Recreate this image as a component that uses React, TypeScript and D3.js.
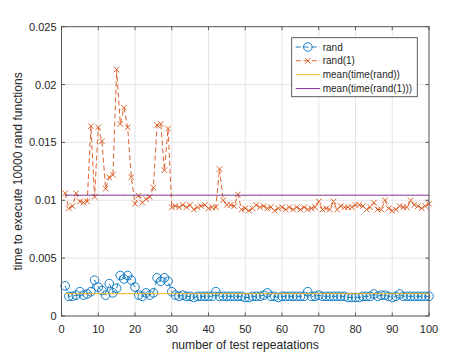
import React from "react";
import * as d3 from "d3";

const randTimes: number[] = [
  0.0026, 0.0017, 0.0017, 0.0018, 0.0021, 0.0018, 0.0019, 0.0021, 0.0031, 0.0025,
  0.0022, 0.0018, 0.0028, 0.0020, 0.0024, 0.0035, 0.0032, 0.0035, 0.0031, 0.0025,
  0.0018, 0.0017, 0.0020, 0.0018, 0.0020, 0.0033, 0.0030, 0.0033, 0.0030, 0.0021,
  0.0018, 0.0017, 0.0018, 0.0017, 0.0017, 0.0016, 0.0017, 0.0017, 0.0017, 0.0017,
  0.0017, 0.0021, 0.0017, 0.0017, 0.0017, 0.0017, 0.0017, 0.0017, 0.0017, 0.0016,
  0.0016, 0.0017, 0.0017, 0.0017, 0.0018, 0.0020, 0.0017, 0.0017, 0.0016, 0.0017,
  0.0017, 0.0017, 0.0017, 0.0017, 0.0017, 0.0017, 0.0021, 0.0017, 0.0017, 0.0018,
  0.0017, 0.0017, 0.0017, 0.0017, 0.0017, 0.0017, 0.0017, 0.0016, 0.0016, 0.0016,
  0.0016, 0.0017, 0.0017, 0.0017, 0.0019, 0.0017, 0.0018, 0.0018, 0.0017, 0.0016,
  0.0017, 0.0019, 0.0017, 0.0017, 0.0017, 0.0017, 0.0017, 0.0017, 0.0017, 0.0017,
];

const rand1Times: number[] = [
  0.0106, 0.0093, 0.0095, 0.0106, 0.0099, 0.0098, 0.0099, 0.0164, 0.0103, 0.0163,
  0.0151, 0.0110, 0.0120, 0.0122, 0.0213, 0.0166, 0.0180, 0.0163, 0.0120, 0.0097,
  0.0104, 0.0098, 0.0101, 0.0103, 0.0111, 0.0165, 0.0166, 0.0126, 0.0162, 0.0094,
  0.0095, 0.0094, 0.0096, 0.0094, 0.0096, 0.0092, 0.0094, 0.0095, 0.0096, 0.0093,
  0.0094, 0.0094, 0.0127, 0.0100, 0.0096, 0.0096, 0.0095, 0.0105, 0.0092, 0.0093,
  0.0091, 0.0093, 0.0096, 0.0094, 0.0095, 0.0093, 0.0094, 0.0091, 0.0093, 0.0094,
  0.0092, 0.0094, 0.0092, 0.0094, 0.0092, 0.0094, 0.0092, 0.0093, 0.0094, 0.0099,
  0.0092, 0.0093, 0.0092, 0.0099, 0.0092, 0.0095, 0.0094, 0.0094, 0.0094, 0.0096,
  0.0096, 0.0095, 0.0092, 0.0094, 0.0098, 0.0092, 0.0092, 0.0100, 0.0093, 0.0091,
  0.0092, 0.0095, 0.0094, 0.0094, 0.0100, 0.0096, 0.0095, 0.0093, 0.0095, 0.0097,
];

const xTicks: number[] = [0, 10, 20, 30, 40, 50, 60, 70, 80, 90, 100];
const yTicks: number[] = [0, 0.005, 0.01, 0.015, 0.02, 0.025];
const yTickLabels: string[] = ["0", "0.005", "0.01", "0.015", "0.02", "0.025"];
const legendLabels: string[] = ["rand", "rand(1)", "mean(time(rand))", "mean(time(rand(1)))"];

const W = 474;
const H = 355;
const M = { left: 61.5, right: 429, top: 26.7, bottom: 316 };

const BLUE = "#0072BD";
const ORANGE = "#D95319";
const YELLOW = "#EDB120";
const PURPLE = "#7E2F8E";
const AX = "#4a4a4a";
const TXT = "#262626";
const FONT = "'Liberation Sans', Arial, Helvetica, sans-serif";

export default function App() {
  const x = d3.scaleLinear().domain([0, 100]).range([M.left, M.right]);
  const y = d3.scaleLinear().domain([0, 0.025]).range([M.bottom, M.top]);

  const idx = d3.range(1, 101);
  const line = d3
    .line<number>()
    .x((_, i) => x(i + 1))
    .y((d) => y(d));

  const meanRand = d3.mean(randTimes) as number;
  const meanRand1 = d3.mean(rand1Times) as number;
  const meanLine = (m: number) =>
    d3.line<number>().x((i) => x(i)).y(() => y(m))(idx) as string;

  const tick = 3.5;
  const legX = 291.7;
  const legY = 37.7;
  const legW = 125.6;
  const legH = 59;
  const rowY = [47, 60.8, 74.7, 88.6];

  const xMarker = (cx: number, cy: number, s: number, key: string | number) => (
    <path
      key={key}
      d={`M${cx - s},${cy - s}L${cx + s},${cy + s}M${cx - s},${cy + s}L${cx + s},${cy - s}`}
      stroke={ORANGE}
      strokeWidth={0.9}
      fill="none"
    />
  );

  return (
    <svg
      width={W}
      height={H}
      style={{ position: "absolute", left: 0, top: 0, background: "#fff" }}
      fontFamily={FONT}
    >
      <rect x={0} y={0} width={W} height={H} fill="#fff" />
      {/* grid */}
      {xTicks.map((t) => (
        <line key={"gx" + t} x1={x(t)} x2={x(t)} y1={M.top} y2={M.bottom} stroke="#dedede" strokeWidth={0.8} />
      ))}
      {yTicks.map((t) => (
        <line key={"gy" + t} x1={M.left} x2={M.right} y1={y(t)} y2={y(t)} stroke="#dedede" strokeWidth={0.8} />
      ))}

      {/* rand series */}
      <path d={line(randTimes) as string} fill="none" stroke={BLUE} strokeWidth={0.9} strokeDasharray="5,3" />
      {randTimes.map((v, i) => (
        <circle key={"c" + i} cx={x(i + 1)} cy={y(v)} r={4.3} fill="none" stroke={BLUE} strokeWidth={0.9} />
      ))}

      {/* rand(1) series */}
      <path d={line(rand1Times) as string} fill="none" stroke={ORANGE} strokeWidth={0.9} strokeDasharray="5,3" />
      {rand1Times.map((v, i) => xMarker(x(i + 1), y(v), 2.8, "x" + i))}

      {/* mean lines */}
      <path d={meanLine(meanRand)} fill="none" stroke={YELLOW} strokeWidth={1} />
      <path d={meanLine(meanRand1)} fill="none" stroke={PURPLE} strokeWidth={1} />

      {/* axes box */}
      <rect x={M.left} y={M.top} width={M.right - M.left} height={M.bottom - M.top} fill="none" stroke={AX} strokeWidth={0.9} />
      {xTicks.map((t) => (
        <g key={"xt" + t}>
          <line x1={x(t)} x2={x(t)} y1={M.bottom} y2={M.bottom - tick} stroke={AX} strokeWidth={0.9} />
          <line x1={x(t)} x2={x(t)} y1={M.top} y2={M.top + tick} stroke={AX} strokeWidth={0.9} />
          <text x={x(t)} y={M.bottom + 16.5} textAnchor="middle" fontSize={11} fill={TXT}>
            {t}
          </text>
        </g>
      ))}
      {yTicks.map((t, i) => (
        <g key={"yt" + t}>
          <line x1={M.left} x2={M.left + tick} y1={y(t)} y2={y(t)} stroke={AX} strokeWidth={0.9} />
          <line x1={M.right} x2={M.right - tick} y1={y(t)} y2={y(t)} stroke={AX} strokeWidth={0.9} />
          <text x={M.left - 5} y={y(t) + 4} textAnchor="end" fontSize={11} fill={TXT}>
            {yTickLabels[i]}
          </text>
        </g>
      ))}

      {/* axis labels */}
      <text x={(M.left + M.right) / 2} y={348.5} textAnchor="middle" fontSize={12.1} fill={TXT}>
        number of test repeatations
      </text>
      <text
        transform={`translate(${21.5},${(M.top + M.bottom) / 2}) rotate(-90)`}
        textAnchor="middle"
        fontSize={12.1}
        fill={TXT}
      >
        time to execute 10000 rand functions
      </text>

      {/* legend */}
      <rect x={legX} y={legY} width={legW} height={legH} fill="#fff" stroke={AX} strokeWidth={0.9} />
      <line x1={295.7} x2={320} y1={rowY[0]} y2={rowY[0]} stroke={BLUE} strokeWidth={0.9} strokeDasharray="5,3" />
      <circle cx={307.8} cy={rowY[0]} r={4.3} fill="none" stroke={BLUE} strokeWidth={0.9} />
      <line x1={295.7} x2={320} y1={rowY[1]} y2={rowY[1]} stroke={ORANGE} strokeWidth={0.9} strokeDasharray="5,3" />
      {xMarker(307.8, rowY[1], 2.8, "lx")}
      <line x1={295.7} x2={320} y1={rowY[2]} y2={rowY[2]} stroke={YELLOW} strokeWidth={1} />
      <line x1={295.7} x2={320} y1={rowY[3]} y2={rowY[3]} stroke={PURPLE} strokeWidth={1} />
      {legendLabels.map((l, i) => (
        <text key={"lg" + i} x={322.7} y={rowY[i] + 3.6} fontSize={10} fill={TXT}>
          {l}
        </text>
      ))}
    </svg>
  );
}
